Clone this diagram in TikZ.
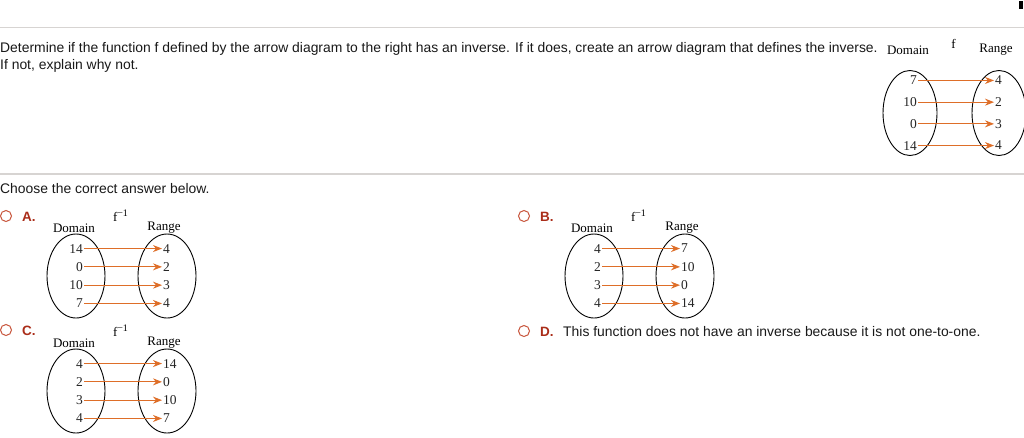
\documentclass[tikz,border=0pt]{standalone}
\usepackage{fontspec}
\setmainfont{Liberation Serif}
\newfontfamily\ui{Liberation Sans}
\newfontfamily\dg{Liberation Serif}
\usetikzlibrary{shapes.geometric,arrows.meta}
\definecolor{arrorange}{RGB}{222,110,40}
\definecolor{radio}{RGB}{200,85,60}
\definecolor{optlet}{RGB}{170,45,25}
\definecolor{rule}{RGB}{215,212,210}
\tikzset{
  ell/.style={draw=black, ellipse, line width=0.9pt, inner sep=0pt},
  lab/.style={font=\dg\fontsize{13}{15}\selectfont, inner sep=0pt},
  num/.style={font=\dg\fontsize{13.5}{15}\selectfont, inner sep=1pt, text=black!85},
  arr/.style={draw=arrorange, line width=1pt, -{Stealth[length=9pt,width=7pt]}},
  txt/.style={font=\ui\fontsize{13.9}{16}\selectfont, inner sep=0pt, anchor=base west, text=black!90},
  radiob/.style={draw=radio, line width=1pt, circle, minimum size=11pt, inner sep=0pt},
  optl/.style={font=\ui\bfseries\fontsize{13.5}{16}\selectfont, text=optlet, inner sep=0pt, anchor=base west},
}
\newcommand\finv{f\raisebox{5pt}{\fontsize{10}{11}\selectfont −1}}
% #1 prefix, #2 left ellipse x, #3 centre y, #4 title, #5 pairs
\newcommand\adiag[5]{%
  \node[ell, minimum width=2*\rx pt, minimum height=2*\ry pt] (#1dE) at (#2,#3) {};
  \node[ell, minimum width=2*\rx pt, minimum height=2*\ry pt] (#1rE) at ({#2+\sep},#3) {};
  \node[lab] (#1dL) at ({#2-2},{#3-\labup}) {Domain};
  \node[lab] (#1rL) at ({#2+\sep-3},{#3-\labup}) {Range};
  \node[lab] (#1f) at ({#2+\sep/2-1},{#3-\labup-\fup}) {#4};
  \foreach \a/\b [count=\i] in {#5} {
    \node[num, anchor=east] (#1d\i) at ({#2+8},{#3+(\i-2.5)*\rowsep}) {\a};
    \node[num, anchor=west] (#1r\i) at ({#2+\sep-5},{#3+(\i-2.5)*\rowsep}) {\b};
    \draw[arr] (#1d\i.east) -- (#1r\i.west);
  }%
}
\begin{document}
\begin{tikzpicture}[x=1pt,y=-1pt]
\useasboundingbox (0,0) rectangle (1024,437);
\fill[white] (0,0) rectangle (1024,437);
% rules
\draw[rule, line width=1pt] (0,27) -- (1024,27);
\draw[rule, line width=2pt] (0,174) -- (1024,174);
\fill[black] (1019,1) rectangle (1023,9);
% question
\node[txt] (q1) at (0,52) {Determine if the function f defined by the arrow diagram to the right has an inverse. If it does, create an arrow diagram that defines the inverse.};
\node[txt] (q2) at (0,69) {If not, explain why not.};
% top diagram
\def\rx{27}\def\ry{42.5}\def\sep{89}\def\rowsep{21.7}\def\labup{63}\def\fup{6}
\adiag{t}{910}{113}{f}{7/4,10/2,0/3,14/4}
\node[txt] (ch) at (0,193) {Choose the correct answer below.};
% options
\def\rx{29}\def\ry{42}\def\sep{91}\def\rowsep{18.3}\def\labup{48}\def\fup{12}
\node[radiob] (ra) at (6,216) {};
\node[optl] (la) at (22,221) {A.};
\adiag{a}{76}{276}{\finv}{14/4,0/2,10/3,7/4}
\node[radiob] (rb) at (524,216) {};
\node[optl] (lb) at (540,221) {B.};
\adiag{b}{594}{276}{\finv}{4/7,2/10,3/0,4/14}
\node[radiob] (rc) at (6,330) {};
\node[optl] (lc) at (22,335) {C.};
\adiag{c}{76}{391}{\finv}{4/14,2/0,3/10,4/7}
\node[radiob] (rd) at (524,331) {};
\node[optl] (ld) at (540,336) {D.};
\node[txt] (dt) at (563,336) {This function does not have an inverse because it is not one-to-one.};
\end{tikzpicture}
\end{document}
